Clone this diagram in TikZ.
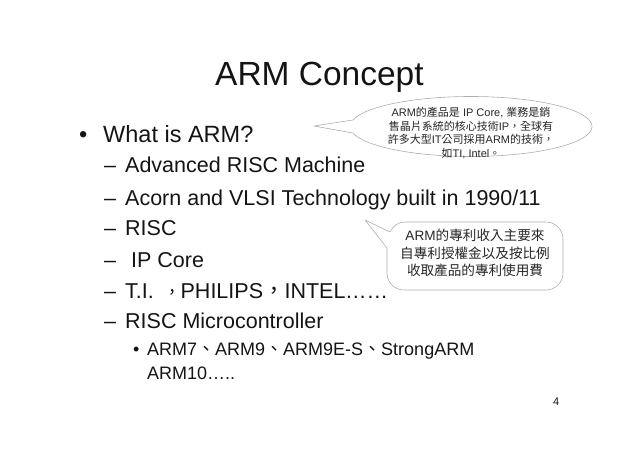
\documentclass[tikz,border=0pt]{standalone}
\usepackage{fontspec}
\setmainfont{Liberation Sans}
\newfontfamily\cj{Noto Sans CJK TC}
\newcommand{\C}[1]{{\cj #1}}
\tikzset{
  body/.style={anchor=base west,inner sep=0pt,font=\fontsize{#1}{#1}\selectfont,text=black!92},
  callouttext/.style={align=center,inner sep=0pt,text=black!85},
  calloutline/.style={draw=black!32,line width=0.6pt,line join=round}
}
\begin{document}
\begin{tikzpicture}[x=1pt,y=-1pt]
\useasboundingbox (0,0) rectangle (638,451);
\node[body=33.5] (title) at (215,85) {ARM Concept};
\node[body=23.5] (b1) at (79,142) {•};
\node[body=23.5] (l1) at (103,142) {What is ARM?};
\node[body=21.5] (d1) at (104,172) {–};
\node[body=21.5] (l2) at (125,172) {Advanced RISC Machine};
\node[body=21.5] (d2) at (104,205) {–};
\node[body=21.5] (l3) at (125,205) {Acorn and VLSI Technology built in 1990/11};
\node[body=21.5] (d3) at (104,235) {–};
\node[body=21.5] (l4) at (125,235) {RISC};
\node[body=21.5] (d4) at (104,267) {–};
\node[body=21.5] (l5) at (131,267) {IP Core};
\node[body=21.5] (d5) at (104,298) {–};
\node[body=21.5] (l6) at (125,298) {T.I. \C{\fontsize{17}{17}\selectfont\ ，}PHILIPS\C{，}INTEL\kern-0.5pt……};
\node[body=21.5] (d6) at (104,328) {–};
\node[body=21.5] (l7) at (125,328) {RISC Microcontroller};
\node[body=18] (b2) at (133,355) {•};
\node[body=18] (l8) at (147,355) {ARM7\C{、}ARM9\C{、}ARM9E-S\C{、}StrongARM};
\node[body=18] (l9) at (147,379) {ARM10…..};
\node[body=11] (page) at (553,405) {4};
% oval callout
\draw[calloutline] (314,126) -- (352.9,120)
  arc[start angle=192.5,end angle=527.5,x radius=121,y radius=30] -- cycle;
\node[callouttext,font=\fontsize{11}{13.5}\selectfont] (oval) at (471,133)
  {ARM\C{的產品是} IP Core, \C{業務是銷}\\ \C{售晶片系統的核心技術}IP\C{，全球有}\\
   \C{許多大型}IT\C{公司採用}ARM\C{的技術，}\\ \C{如}TI, Intel\C{。}};
% rounded callout
\draw[calloutline] (365,220) -- (390,232) .. controls (393,226) and (398,222) .. (405,222) -- (546,222)
  arc[start angle=270,end angle=360,radius=17] -- (563,273)
  arc[start angle=0,end angle=90,radius=17] -- (404,290)
  arc[start angle=90,end angle=180,radius=17] -- (387,248) -- cycle;
\node[callouttext,font=\fontsize{13.6}{17.6}\selectfont] (rbox) at (475,253)
  {ARM\C{的專利收入主要來}\\ \C{自專利授權金以及按比例}\\ \C{收取產品的專利使用費}};
\end{tikzpicture}
\end{document}
